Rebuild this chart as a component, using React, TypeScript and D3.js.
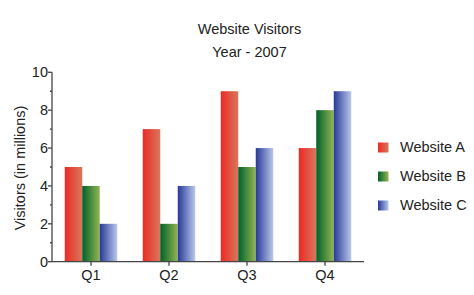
import React from 'react';
import * as d3 from 'd3';

const categories = ['Q1', 'Q2', 'Q3', 'Q4'];
const seriesNames = ['Website A', 'Website B', 'Website C'];
const websiteA = [5, 7, 9, 6];
const websiteB = [4, 2, 5, 8];
const websiteC = [2, 4, 6, 9];
const yTicks = [0, 2, 4, 6, 8, 10];
const yMinorTicks = [1, 3, 5, 7, 9];

const gradients = [
  { id: 'gA', from: '#ec2a24', to: '#d8775c' },
  { id: 'gB', from: '#00602a', to: '#93b652' },
  { id: 'gC', from: '#283896', to: '#b8c8ec' },
];

export default function App() {
  const W = 474, H = 295;
  const left = 52, right = 364, top = 72.3, bottom = 261.7;
  const series = [websiteA, websiteB, websiteC];

  const x0 = d3.scaleBand<string>().domain(categories).range([left, right]).paddingInner(0.327).paddingOuter(0.1635);
  const x1 = d3.scaleBand<string>().domain(seriesNames).range([0, x0.bandwidth()]);
  const y = d3.scaleLinear().domain([0, 10]).range([bottom, top]);

  const font = "'Liberation Sans', Arial, sans-serif";
  const axisColor = '#444';
  const textColor = '#222';
  const fs = 14.5;

  return (
    <svg width={W} height={H} style={{ position: 'absolute', left: 0, top: 0, background: '#fff' }} fontFamily={font}>
      <defs>
        {gradients.map(g => (
          <linearGradient key={g.id} id={g.id} x1="0" y1="0" x2="1" y2="0">
            <stop offset="0%" stopColor={g.from} />
            <stop offset="100%" stopColor={g.to} />
          </linearGradient>
        ))}
      </defs>
      <text x={249.5} y={34} textAnchor="middle" fontSize={fs} fill={textColor}>Website Visitors</text>
      <text x={249.5} y={57} textAnchor="middle" fontSize={fs} fill={textColor}>Year - 2007</text>

      {categories.map((c, i) => (
        <g key={c} transform={`translate(${x0(c)},0)`}>
          {seriesNames.map((s, j) => (
            <rect key={s} x={x1(s)} y={y(series[j][i])} width={x1.bandwidth()} height={bottom - y(series[j][i])} fill={`url(#${gradients[j].id})`} />
          ))}
        </g>
      ))}

      <line x1={left} x2={left} y1={top} y2={bottom} stroke={axisColor} strokeWidth={1.3} />
      {yTicks.map(t => (
        <g key={t}>
          <line x1={left - 4} x2={left} y1={y(t)} y2={y(t)} stroke={axisColor} strokeWidth={1.3} />
          <text x={left - 4} y={y(t) + 5} textAnchor="end" fontSize={fs} fill={textColor}>{t}</text>
        </g>
      ))}
      {yMinorTicks.map(t => (
        <line key={t} x1={left - 2} x2={left} y1={y(t)} y2={y(t)} stroke={axisColor} strokeWidth={1.3} />
      ))}
      <line x1={left} x2={right} y1={bottom} y2={bottom} stroke={axisColor} strokeWidth={1.3} />
      {categories.map(c => {
        const cx = (x0(c) as number) + x0.bandwidth() / 2;
        return (
          <g key={c}>
            <line x1={cx} x2={cx} y1={bottom} y2={bottom + 4} stroke={axisColor} strokeWidth={1.3} />
            <text x={cx} y={280} textAnchor="middle" fontSize={fs} fill={textColor}>{c}</text>
          </g>
        );
      })}
      <text transform={`translate(25,168) rotate(-90)`} textAnchor="middle" fontSize={fs} fill={textColor}>Visitors (in millions)</text>

      {seriesNames.map((s, j) => (
        <g key={s} transform={`translate(378,${142.5 + j * 29})`}>
          <rect x={0} y={0} width={10.5} height={10} fill={`url(#${gradients[j].id})`} />
          <text x={22} y={9} fontSize={fs} fill={textColor}>{s}</text>
        </g>
      ))}
    </svg>
  );
}
